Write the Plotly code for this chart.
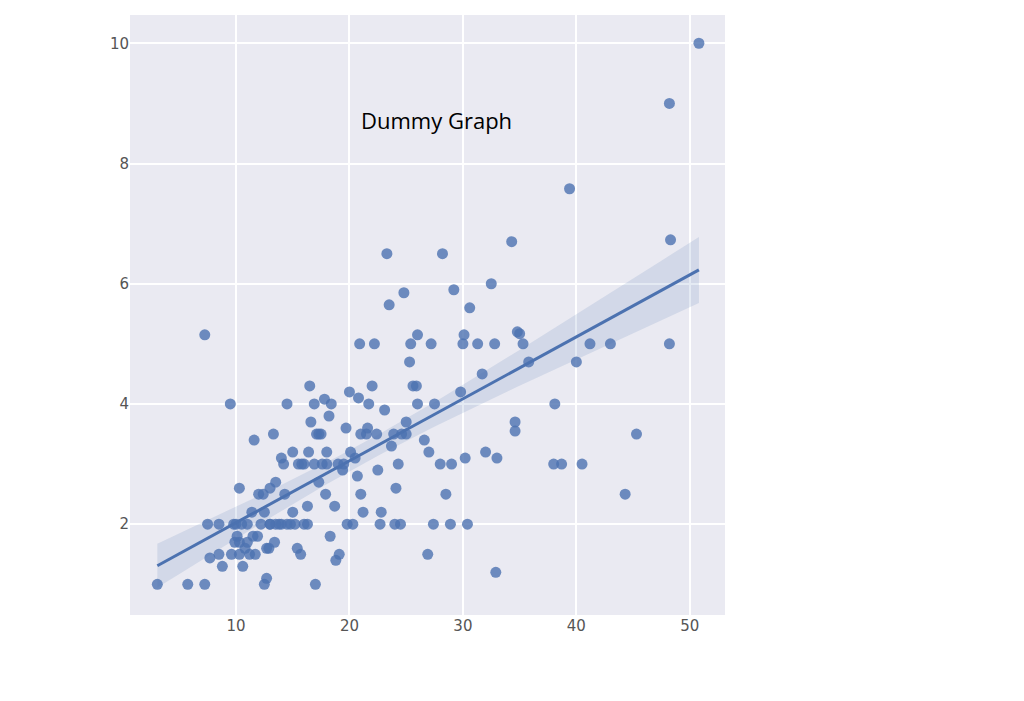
import numpy as np
import plotly.graph_objs as go

# total bill vs tip
total_bill = [3.07, 5.75, 7.25, 7.25, 7.5, 7.7, 8.5, 8.5, 8.8, 9.5, 9.6, 10, 10.3, 10.3, 10.6, 10.3, 10.1,
              11, 11.2, 11.5, 11.6, 11.7, 12, 12.5, 12.7, 12.5, 12.7, 13, 13, 13.3, 13.4, 13.5, 13.8, 14,
              14.2, 14.5, 14.3, 14.8, 15, 15.0, 15.4, 15.5, 15.7, 16, 16.3, 16.3, 16.4, 16.5, 16.6, 16.9,
              17, 17.1, 17.3, 17.5, 17.8, 17.9, 18, 18.2, 18.3, 18.4, 18.7, 18.8, 19, 19.1, 19.5, 19.7,
              19.8, 20, 20.3, 20.5, 20.7, 20.8, 20.9, 21, 21.0, 21.2, 21.5, 21.7, 22, 22.2, 22.4, 22.7,
              22.8, 23.1, 23.3, 23.5, 23.7, 24, 24.1, 24.3, 24.5, 24.6, 24.8, 25, 25.3, 25.4, 25.6, 26,
              26.0, 26.6, 26.9, 27, 27.2, 27.4, 27.5, 28, 28.2, 28.5, 28.9, 29, 29.2, 29.8, 30, 30.1,
              30.2, 30.4, 30.6, 31.3, 31.7, 32, 32.5, 32.8, 32.9, 33, 34.3, 34.6, 34.6, 34.8, 35, 35.3,
              35.8, 38, 38.1, 38.7, 39.4, 40, 40.5, 41.2, 43, 44.3, 45.3, 48.2, 48.2, 48.3, 50.8,
              10.5, 11.0, 12.2, 13.0, 14.5, 15.2, 16.0, 17.6, 18.0, 19.4, 20.1, 21.6, 22.5, 25.0, 25.9,
              23.9, 14.0, 15.8, 16.9, 17.3, 11.9, 12.9, 13.5, 10.8, 9.9, 9.8, 11.4, 12.4]
tip = [1, 1, 1, 5.15, 2, 1.44, 2, 1.5, 1.3, 4, 1.5, 2, 1.7, 2.6, 1.3, 1.5, 1.8,
       2, 1.5, 1.8, 3.4, 1.5, 2.5, 1.0, 1.1, 2.2, 1.6, 2, 2.6, 3.5, 1.7, 2.7, 2, 2,
       3, 4, 2.5, 2, 2.2, 3.2, 1.6, 3, 1.5, 3, 2, 2.3, 3.2, 4.3, 3.7, 4,
       1, 3.5, 2.7, 3.5, 4.08, 2.5, 3, 3.8, 1.8, 4, 2.3, 1.4, 3, 1.5, 3, 3.6,
       2, 4.2, 2, 3.1, 2.8, 4.1, 5, 3.5, 2.5, 2.2, 3.5, 4, 4.3, 5, 3.5, 2,
       2.2, 3.9, 6.5, 5.65, 3.3, 2.0, 2.6, 3, 2, 3.5, 5.85, 3.7, 4.7, 5, 4.3, 4,
       5.15, 3.4, 1.5, 3.2, 5, 2, 4, 3, 6.5, 2.5, 2, 3, 5.9, 4.2, 5.0, 5.15,
       3.1, 2, 5.6, 5, 4.5, 3.2, 6, 5, 1.2, 3.1, 6.7, 3.7, 3.55, 5.2, 5.17, 5,
       4.7, 3, 4, 3, 7.58, 4.7, 3, 5, 5, 2.5, 3.5, 5, 9, 6.73, 10,
       2, 1.7, 2, 2, 2, 2, 2, 3, 3.2, 2.9, 3.2, 3.6, 2.9, 3.5, 4.3,
       3.5, 3.1, 3.0, 3.0, 3.5, 1.8, 1.6, 2.0, 1.6, 1.7, 2.0, 2.2, 2.5]

x = np.array(total_bill)
y = np.array(tip)

# ordinary least squares fit with 95% confidence band
slope, intercept = np.polyfit(x, y, 1)
xs = np.linspace(x.min(), x.max(), 100)
ys = intercept + slope * xs
n = len(x)
resid = y - (intercept + slope * x)
s = np.sqrt((resid ** 2).sum() / (n - 2))
se = s * np.sqrt(1 / n + (xs - x.mean()) ** 2 / ((x - x.mean()) ** 2).sum())
upper = ys + 1.97 * se
lower = ys - 1.97 * se

blue = "#4C72B0"

fig = go.Figure()
fig.add_trace(go.Scatter(
    x=np.concatenate([xs, xs[::-1]]), y=np.concatenate([upper, lower[::-1]]),
    fill="toself", fillcolor="rgba(76,114,176,0.15)", line=dict(width=0),
    hoverinfo="skip", showlegend=False,
))
fig.add_trace(go.Scatter(
    x=x, y=y, mode="markers",
    marker=dict(color=blue, size=11, opacity=0.8),
    showlegend=False,
))
fig.add_trace(go.Scatter(
    x=xs, y=ys, mode="lines", line=dict(color=blue, width=3), showlegend=False,
))

fig.add_annotation(
    text="Dummy Graph", x=0.515, y=0.853, xref="paper", yref="paper",
    showarrow=False, font=dict(family="Open Sans", size=22, color="black"),
)

fig.update_layout(
    width=1024, height=701,
    paper_bgcolor="white", plot_bgcolor="#EAEAF2",
    margin=dict(l=122, r=307, t=7, b=94),
    font=dict(family="DejaVu Sans", size=15, color="#555555"),
)
fig.update_xaxes(range=[0.66, 53.1], tickvals=[10, 20, 30, 40, 50],
                 showgrid=True, gridcolor="white", gridwidth=1.5, zeroline=False, ticks="")
fig.update_yaxes(range=[0.49, 10.47], tickvals=[2, 4, 6, 8, 10],
                 showgrid=True, gridcolor="white", gridwidth=1.5, zeroline=False, ticks="")

fig.write_html("out.html")
